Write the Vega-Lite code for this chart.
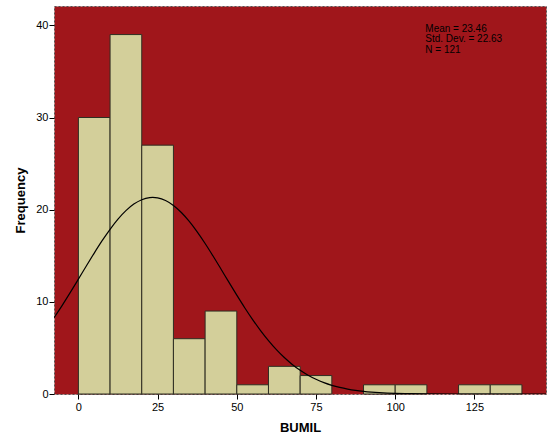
{
  "$schema": "https://vega.github.io/schema/vega-lite/v6.json",
  "autosize": "none",
  "width": 492,
  "height": 388,
  "padding": {"left": 54, "top": 6, "right": 7, "bottom": 43},
  "background": "white",
  "datasets": {
    "bins": [
      {"start": 0, "end": 10, "count": 30},
      {"start": 10, "end": 20, "count": 39},
      {"start": 20, "end": 30, "count": 27},
      {"start": 30, "end": 40, "count": 6},
      {"start": 40, "end": 50, "count": 9},
      {"start": 50, "end": 60, "count": 1},
      {"start": 60, "end": 70, "count": 3},
      {"start": 70, "end": 80, "count": 2},
      {"start": 90, "end": 100, "count": 1},
      {"start": 100, "end": 110, "count": 1},
      {"start": 120, "end": 130, "count": 1},
      {"start": 130, "end": 140, "count": 1}
    ],
    "curve": [
      {"x": -7.7, "y": 8.27}, {"x": -5, "y": 9.673}, {"x": -2.5, "y": 11.047},
      {"x": 0, "y": 12.464}, {"x": 2.5, "y": 13.89}, {"x": 5, "y": 15.293},
      {"x": 7.5, "y": 16.634}, {"x": 10, "y": 17.873}, {"x": 12.5, "y": 18.97},
      {"x": 15, "y": 19.891}, {"x": 17.5, "y": 20.604}, {"x": 20, "y": 21.083},
      {"x": 22.5, "y": 21.312}, {"x": 23.46, "y": 21.331}, {"x": 25, "y": 21.282},
      {"x": 27.5, "y": 20.994}, {"x": 30, "y": 20.459}, {"x": 32.5, "y": 19.695},
      {"x": 35, "y": 18.73}, {"x": 37.5, "y": 17.597}, {"x": 40, "y": 16.331},
      {"x": 42.5, "y": 14.972}, {"x": 45, "y": 13.561}, {"x": 47.5, "y": 12.133},
      {"x": 50, "y": 10.724}, {"x": 52.5, "y": 9.363}, {"x": 55, "y": 8.076},
      {"x": 57.5, "y": 6.882}, {"x": 60, "y": 5.793}, {"x": 62.5, "y": 4.817},
      {"x": 65, "y": 3.957}, {"x": 67.5, "y": 3.21}, {"x": 70, "y": 2.573},
      {"x": 72.5, "y": 2.038}, {"x": 75, "y": 1.595}, {"x": 77.5, "y": 1.233},
      {"x": 80, "y": 0.941}, {"x": 82.5, "y": 0.71}, {"x": 85, "y": 0.529},
      {"x": 87.5, "y": 0.389}, {"x": 90, "y": 0.283}, {"x": 92.5, "y": 0.203},
      {"x": 95, "y": 0.144}, {"x": 97.5, "y": 0.101}, {"x": 100, "y": 0.07},
      {"x": 105, "y": 0.032}, {"x": 110, "y": 0.014}, {"x": 120, "y": 0.0024},
      {"x": 130, "y": 0.0003}, {"x": 147.6, "y": 0}
    ],
    "stats": [
      {"x": 109.5, "y": 39.65, "label": "Mean = 23.46"},
      {"x": 109.5, "y": 38.5, "label": "Std. Dev. = 22.63"},
      {"x": 109.5, "y": 37.35, "label": "N = 121"}
    ]
  },
  "layer": [
    {
      "data": {"name": "bins"},
      "mark": {"type": "rect", "fill": "#D3CF9A", "stroke": "#2e2e22", "strokeWidth": 1},
      "encoding": {
        "x": {
          "field": "start",
          "type": "quantitative",
          "scale": {"domain": [-7.7, 147.6], "nice": false, "zero": false},
          "axis": {
            "values": [0, 25, 50, 75, 100, 125],
            "title": "BUMIL",
            "domain": false,
            "grid": false,
            "tickSize": 5,
            "tickColor": "black",
            "labelPadding": 2,
            "titlePadding": 9
          }
        },
        "x2": {"field": "end"},
        "y": {
          "field": "count",
          "type": "quantitative",
          "scale": {"domain": [0, 42.1], "nice": false},
          "axis": {
            "values": [0, 10, 20, 30, 40],
            "title": "Frequency",
            "domain": false,
            "grid": false,
            "tickSize": 5,
            "tickColor": "black",
            "labelPadding": 1,
            "titlePadding": 8
          }
        },
        "y2": {"datum": 0}
      }
    },
    {
      "data": {"name": "curve"},
      "mark": {"type": "line", "color": "black", "strokeWidth": 1.2, "interpolate": "monotone", "clip": true},
      "encoding": {
        "x": {"field": "x", "type": "quantitative"},
        "y": {"field": "y", "type": "quantitative"}
      }
    },
    {
      "data": {"name": "stats"},
      "mark": {"type": "text", "align": "left", "baseline": "middle", "fontSize": 10, "font": "Liberation Sans", "color": "black"},
      "encoding": {
        "x": {"field": "x", "type": "quantitative"},
        "y": {"field": "y", "type": "quantitative"},
        "text": {"field": "label"}
      }
    }
  ],
  "config": {
    "view": {"fill": "#A0161B", "stroke": "#555555", "strokeDash": [2, 2], "strokeWidth": 1},
    "axis": {
      "labelFont": "Liberation Sans",
      "labelFontSize": 11,
      "labelColor": "black",
      "titleFont": "Liberation Sans",
      "titleFontSize": 13,
      "titleFontWeight": "bold",
      "titleColor": "black"
    }
  }
}
